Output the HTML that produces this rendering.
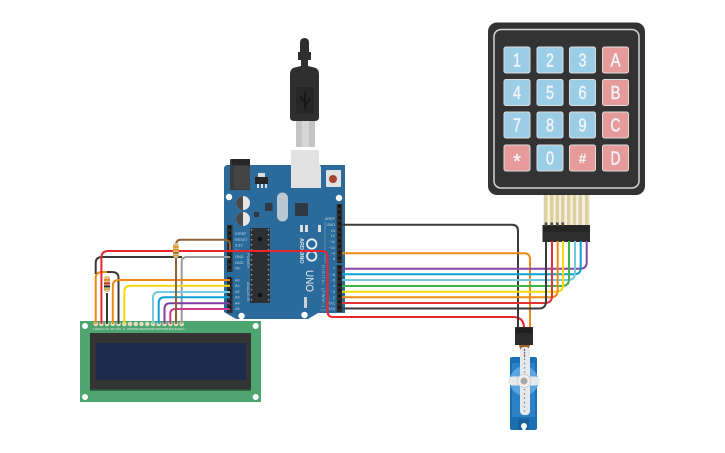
<!DOCTYPE html>
<html><head><meta charset="utf-8"><style>
html,body{margin:0;padding:0;background:#fff}
svg{display:block}
text{font-family:"Liberation Sans",sans-serif}
</style></head><body>
<svg width="725" height="453" viewBox="0 0 725 453" xmlns="http://www.w3.org/2000/svg">
<rect width="725" height="453" fill="#fff"/>

<!-- USB -->
<rect x="296" y="120" width="19" height="27" fill="#c4c4c4"/>
<rect x="302" y="120" width="7" height="27" fill="#d6d6d6"/>
<path d="M300,52 V43 Q300,38 304.500,38 Q309,38 309,43 V52 H311 V60 H308 V66 L316,68 Q319,70 319,74 V117 Q319,121 315,121 H294 Q290,121 290,117 V74 Q290,70 293,68 L301,66 V60 H298 V52 Z" fill="#2f2f2f"/>
<rect x="296" y="87" width="18" height="27" fill="#262626"/>
<path d="M305,92 V109 M305,102 L301,98 V96 M305,105 L309,101 V98" stroke="#111" stroke-width="1.200" fill="none"/>

<!-- Arduino board -->
<path d="M228,165 H345 V313 H318 L308,319 H236 L224,312 V169 Q224,165 228,165 Z" fill="#2b6b9b"/>
<path d="M291,150 H319 V164 L321,167 V188 H291 Z" fill="#e2e2e2"/>
<rect x="230" y="159" width="20" height="31" rx="1" fill="#3a3a3a"/>
<rect x="232" y="159" width="18" height="6" fill="#262626"/>
<rect x="234" y="166" width="16" height="23" fill="#444"/>
<path d="M258,177 V173 H265 V177 Z" fill="#ddd"/>
<rect x="255" y="177" width="13" height="7" fill="#262626"/>
<rect x="257" y="184" width="2" height="4" fill="#ddd"/><rect x="261" y="184" width="2" height="4" fill="#ddd"/><rect x="265" y="184" width="2" height="4" fill="#ddd"/>
<rect x="326" y="170" width="15" height="17" rx="1" fill="#e2e2e2"/>
<circle cx="333" cy="179" r="4" fill="#a5452f"/>
<circle cx="229" cy="197" r="3.200" fill="#fff"/><circle cx="339" cy="198" r="3.200" fill="#fff"/><circle cx="304.500" cy="315" r="3.200" fill="#fff"/><circle cx="241.500" cy="316" r="3.200" fill="#fff"/>
<circle cx="243" cy="203" r="7" fill="#e6e6e6"/><path d="M243,196 A7,7 0 0 0 243,210 Z" fill="#4a4a4a"/>
<circle cx="243" cy="219" r="7" fill="#e6e6e6"/><path d="M243,212 A7,7 0 0 0 243,226 Z" fill="#4a4a4a"/>
<rect x="265" y="203" width="7.500" height="8" fill="#2d3a45"/>
<rect x="254" y="212" width="5" height="5" fill="#2d3a45"/>
<rect x="277" y="192.500" width="11" height="29" rx="5.500" fill="#b9c8d2"/>
<rect x="295" y="203" width="13" height="13" fill="#2d3a45"/>
<rect x="250" y="228" width="20" height="75" fill="#2c2f33"/>
<path d="M251.500,229 V302 M268.500,229 V302" stroke="#8a9aa5" stroke-width="1.500" stroke-dasharray="1.500 3.500"/>
<circle cx="260" cy="239" r="2.200" fill="#111"/><circle cx="260" cy="295" r="2.200" fill="#111"/>
<rect x="300" y="225" width="3" height="7" fill="#d8dde0"/><rect x="305" y="225" width="3" height="7" fill="#d8dde0"/><rect x="318" y="225" width="3" height="7" fill="#d8dde0"/>
<rect x="304" y="297" width="3" height="11" fill="#c9d2d8"/>
<circle cx="311.700" cy="244" r="4.700" fill="none" stroke="#e8eef2" stroke-width="1.800"/>
<circle cx="311.700" cy="256" r="4.700" fill="none" stroke="#e8eef2" stroke-width="1.800"/>
<text transform="translate(300,238) rotate(90)" font-size="5.500" font-weight="bold" fill="#d5e2ea">ARDUINO</text>
<text transform="translate(306,270) rotate(90)" font-size="11" fill="#e8eef2" textLength="22" lengthAdjust="spacingAndGlyphs">UNO</text>
<text transform="translate(322,265) rotate(90)" font-size="3.800" fill="#b9cfdd" textLength="42">DIGITAL (PWM~)</text>
<path d="M325,221 V263 M328,265 V310 H320" stroke="#8fb3c9" stroke-width=".5" fill="none"/>
<g font-size="3.800" fill="#c5d8e3" text-anchor="end">
<text x="335" y="220">AREF</text><text x="335" y="226">GND</text><text x="335" y="232">13</text><text x="335" y="237">12</text><text x="335" y="243">~11</text><text x="335" y="249">~10</text><text x="335" y="254.500">~9</text><text x="335" y="260">8</text>
<text x="335" y="270">7</text><text x="335" y="276">~6</text><text x="335" y="281.500">~5</text><text x="335" y="287">4</text><text x="335" y="293">~3</text><text x="335" y="299">2</text><text x="335" y="304.500">TX1</text><text x="335" y="310">RX0</text>
</g>
<g font-size="3.800" fill="#c5d8e3">
<text x="235" y="235">IOREF</text><text x="235" y="241">RESET</text><text x="235" y="246.500">3.3V</text><text x="235" y="252">5V</text><text x="235" y="258">GND</text><text x="235" y="264">GND</text><text x="235" y="269.500">Vin</text>
<text x="235" y="281.500">A0</text><text x="235" y="287">A1</text><text x="235" y="293">A2</text><text x="235" y="298.500">A3</text><text x="235" y="304.500">A4</text><text x="235" y="310">A5</text>
</g>
<text transform="translate(247,253) rotate(90)" font-size="4" fill="#b9cfdd">POWER</text>
<text transform="translate(247,282) rotate(90)" font-size="3.500" fill="#b9cfdd">ANALOG IN</text>

<!-- Headers -->
<rect x="227" y="225" width="5.500" height="47" fill="#2e2e2e"/>
<rect x="227" y="277" width="5.500" height="36" fill="#2e2e2e"/>
<rect x="336.700" y="204" width="5.500" height="59" fill="#2e2e2e"/>
<rect x="336.700" y="265" width="5.500" height="47" fill="#2e2e2e"/>
<path d="M229.700,226 V272 M229.700,278 V312 M339.500,205 V263 M339.500,266 V312" stroke="#111" stroke-width="2.600" stroke-dasharray="2.700 3.030"/>

<!-- LCD -->
<rect x="80" y="321" width="181" height="81" fill="#4fa56f"/>
<rect x="90" y="333" width="161" height="58" fill="#343434"/>
<rect x="96" y="343" width="150" height="37" fill="#1c2b4b"/>
<rect x="90" y="389.500" width="161" height="1.500" fill="#2e6a47"/>
<circle cx="85" cy="326" r="3" fill="#fff"/><circle cx="85" cy="397" r="3" fill="#fff"/><circle cx="255.700" cy="326" r="3" fill="#fff"/><circle cx="255.700" cy="397" r="3" fill="#fff"/>
<g fill="#e9e2b8" stroke="#d8d4c0" stroke-width=".6">
<circle cx="95.700" cy="324" r="2"/><circle cx="101.400" cy="324" r="2"/><circle cx="107.100" cy="324" r="2"/><circle cx="112.800" cy="324" r="2"/><circle cx="118.500" cy="324" r="2"/><circle cx="124.300" cy="324" r="2"/><circle cx="130" cy="324" r="2"/><circle cx="135.800" cy="324" r="2"/><circle cx="141.500" cy="324" r="2"/><circle cx="147.300" cy="324" r="2"/><circle cx="153" cy="324" r="2"/><circle cx="158.700" cy="324" r="2"/><circle cx="164.500" cy="324" r="2"/><circle cx="170.300" cy="324" r="2"/><circle cx="176" cy="324" r="2"/><circle cx="181.700" cy="324" r="2"/>
</g>
<g font-size="3" fill="#d5e8dc" text-anchor="middle">
<text x="95.700" y="330">GND</text><text x="101.400" y="330">VCC</text><text x="107.100" y="330">VO</text><text x="112.800" y="330">RS</text><text x="118.500" y="330">RW</text><text x="124.300" y="330">E</text><text x="130" y="330">DB0</text><text x="135.800" y="330">DB1</text><text x="141.500" y="330">DB2</text><text x="147.300" y="330">DB3</text><text x="153" y="330">DB4</text><text x="158.700" y="330">DB5</text><text x="164.500" y="330">DB6</text><text x="170.300" y="330">DB7</text><text x="176" y="330">LED</text><text x="181.700" y="330">LED</text>
</g>

<!-- Left wires -->
<g fill="none" stroke-width="2">
<path d="M95.700,324 V278 Q95.700,272 102,272 H107" stroke="#ee8a12"/>
<path d="M118.500,324 V278 Q118.500,272 112,272 H107" stroke="#3a3a3a"/>
<path d="M107,293 V324" stroke="#3a3a3a"/>
<path d="M95.700,274 V263 Q95.700,257 102,257 H182" stroke="#3a3a3a"/>
<path d="M181.700,324 V262 Q181.700,257 187,257 H230" stroke="#9a9a9a"/>
<path d="M112.800,324 V286 Q112.800,280 119,280 H230" stroke="#ee8a12"/>
<path d="M124.300,324 V292 Q124.300,285.700 131,285.700 H230" stroke="#f5d90a"/>
<path d="M153,324 V298 Q153,292 159,292 H230" stroke="#74c9dc"/>
<path d="M158.700,324 V303 Q158.700,297.300 165,297.300 H230" stroke="#0e9ed8"/>
<path d="M164.500,324 V309 Q164.500,303.300 170,303.300 H230" stroke="#7d3f9f"/>
<path d="M170.300,324 V314 Q170.300,309 175,309 H230" stroke="#c93a8c"/>
<path d="M176,324 V243 M176,243 V245 Q176,239.700 181,239.700 H224 Q230,239.700 230,245 V251" stroke="#8e6238"/>
<path d="M101.400,324 V258 Q101.400,251 108,251 H322 Q327.500,251 327.500,257 V311 Q327.500,317 333,317 H513 Q524,317 524,328" stroke="#e8262c"/>
</g>

<!-- Resistors -->
<g>
<rect x="104" y="276" width="6" height="16" rx="2.500" fill="#dcc08c"/>
<rect x="104" y="279" width="6" height="1.800" fill="#e88f20"/>
<rect x="104" y="282.500" width="6" height="1.800" fill="#c8242a"/>
<rect x="104" y="285.500" width="6" height="1.800" fill="#222"/>
<rect x="104" y="288.500" width="6" height="1.200" fill="#c9a13c"/>
<rect x="173" y="243" width="5.700" height="15" rx="2.500" fill="#dcc08c"/>
<rect x="173" y="246" width="5.700" height="1.700" fill="#e88f20"/>
<rect x="173" y="249" width="5.700" height="1.700" fill="#e88f20"/>
<rect x="173" y="252" width="5.700" height="1.700" fill="#a5642a"/>
<rect x="173" y="255" width="5.700" height="1.200" fill="#c9a13c"/>
</g>

<!-- Keypad ribbon -->
<rect x="543" y="195" width="47" height="30" fill="#f3f0e6"/>
<g fill="#e0cf9e">
<rect x="544" y="195" width="3.500" height="30"/><rect x="550" y="195" width="3.500" height="30"/><rect x="555.600" y="195" width="3.500" height="30"/><rect x="561" y="195" width="3.500" height="30"/><rect x="567" y="195" width="3.500" height="30"/><rect x="572.700" y="195" width="3.500" height="30"/><rect x="578.500" y="195" width="3.500" height="30"/><rect x="585" y="195" width="3.500" height="30"/>
</g>
<!-- Keypad -->
<rect x="488" y="22.500" width="157" height="172.500" rx="9" fill="#333"/>
<rect x="494" y="29.500" width="145" height="158.500" rx="7" fill="none" stroke="#d5d5d5" stroke-width="1.500"/>
<g stroke="#dcdcdc" stroke-width="1">
<rect x="504" y="47" width="26" height="26" rx="2" fill="#9bcde6"/><rect x="537" y="47" width="26" height="26" rx="2" fill="#9bcde6"/><rect x="569.500" y="47" width="26" height="26" rx="2" fill="#9bcde6"/><rect x="602.500" y="47" width="26" height="26" rx="2" fill="#e79a9a"/>
<rect x="504" y="79.500" width="26" height="26" rx="2" fill="#9bcde6"/><rect x="537" y="79.500" width="26" height="26" rx="2" fill="#9bcde6"/><rect x="569.500" y="79.500" width="26" height="26" rx="2" fill="#9bcde6"/><rect x="602.500" y="79.500" width="26" height="26" rx="2" fill="#e79a9a"/>
<rect x="504" y="112" width="26" height="26" rx="2" fill="#9bcde6"/><rect x="537" y="112" width="26" height="26" rx="2" fill="#9bcde6"/><rect x="569.500" y="112" width="26" height="26" rx="2" fill="#9bcde6"/><rect x="602.500" y="112" width="26" height="26" rx="2" fill="#e79a9a"/>
<rect x="504" y="145" width="26" height="26" rx="2" fill="#e79a9a"/><rect x="537" y="145" width="26" height="26" rx="2" fill="#9bcde6"/><rect x="569.500" y="145" width="26" height="26" rx="2" fill="#e79a9a"/><rect x="602.500" y="145" width="26" height="26" rx="2" fill="#e79a9a"/>
</g>
<g font-size="18" fill="#f2f6f8" stroke="#f2f6f8" stroke-width=".4" text-anchor="middle">
<text x="517" y="66.500" textLength="8" lengthAdjust="spacingAndGlyphs">1</text><text x="550" y="66.500" textLength="8" lengthAdjust="spacingAndGlyphs">2</text><text x="582.500" y="66.500" textLength="8" lengthAdjust="spacingAndGlyphs">3</text><text x="615.500" y="66.500" textLength="10" lengthAdjust="spacingAndGlyphs">A</text>
<text x="517" y="99" textLength="8" lengthAdjust="spacingAndGlyphs">4</text><text x="550" y="99" textLength="8" lengthAdjust="spacingAndGlyphs">5</text><text x="582.500" y="99" textLength="8" lengthAdjust="spacingAndGlyphs">6</text><text x="615.500" y="99" textLength="10" lengthAdjust="spacingAndGlyphs">B</text>
<text x="517" y="131.500" textLength="8" lengthAdjust="spacingAndGlyphs">7</text><text x="550" y="131.500" textLength="8" lengthAdjust="spacingAndGlyphs">8</text><text x="582.500" y="131.500" textLength="8" lengthAdjust="spacingAndGlyphs">9</text><text x="615.500" y="131.500" textLength="10" lengthAdjust="spacingAndGlyphs">C</text>
<text x="517" y="168" font-size="20">*</text><text x="550" y="164.500" textLength="8" lengthAdjust="spacingAndGlyphs">0</text><text x="582.500" y="163" font-size="13" textLength="7" lengthAdjust="spacingAndGlyphs">#</text><text x="615.500" y="164.500" textLength="10" lengthAdjust="spacingAndGlyphs">D</text>
</g>

<!-- Keypad connector -->
<rect x="542.500" y="225" width="47.500" height="17" fill="#2e2e2e"/>
<rect x="542.500" y="225" width="47.500" height="7" fill="#262626"/>
<path d="M546,222.500 V226 M551.700,222.500 V226 M557.300,222.500 V226 M562.700,222.500 V226" stroke="#444" stroke-width="2.500"/>

<!-- Right wires -->
<g fill="none" stroke-width="2">
<path d="M342,224.700 H512 Q518,224.700 518,231 V328" stroke="#3a3a3a"/>
<path d="M342,253.300 H524 Q530,253.300 530,259 V328" stroke="#ee8a12"/>
<path d="M342,268.700 H580 Q586.700,268.700 586.700,262 V241" stroke="#8a44a8"/>
<path d="M342,274.300 H574 Q580.700,274.300 580.700,268 V241" stroke="#0e9ed8"/>
<path d="M342,280 H568 Q575,280 575,273 V241" stroke="#74c9dc"/>
<path d="M342,286 H562 Q569,286 569,279 V241" stroke="#3fb34a"/>
<path d="M342,291.700 H556 Q563,291.700 563,285 V241" stroke="#f5d90a"/>
<path d="M342,297.300 H551 Q557.700,297.300 557.700,290 V241" stroke="#ee8a12"/>
<path d="M342,303 H545 Q552,303 552,296 V241" stroke="#e0323a"/>
<path d="M342,308.500 H539 Q546,308.500 546,301 V241" stroke="#3a3a3a"/>
</g>

<!-- Servo -->
<path d="M519,345 L522,357 H526 L530,345 Z" fill="#a0632a"/>
<rect x="510" y="357" width="27" height="73" rx="2" fill="#1a6fb5"/>
<rect x="512" y="363" width="23" height="54" fill="#2b82c6"/>
<circle cx="524" cy="381" r="14.500" fill="#5aa5e0"/>
<rect x="518" y="419" width="11" height="11" fill="#1a5f9c"/>
<circle cx="524" cy="426" r="3" fill="#fff"/><rect x="522.500" y="426" width="3" height="5" fill="#fff"/>
<rect x="520" y="347" width="10" height="68" rx="4" fill="#e6e9ec"/>
<rect x="508" y="376.500" width="32" height="9" rx="4.500" fill="#e6e9ec"/>
<circle cx="524" cy="381" r="6.500" fill="#f0f0f0" stroke="#ccc"/>
<circle cx="524" cy="381" r="3.500" fill="#a8a8a8"/>
<path d="M524.500,350 V373 M524.500,389 V413" stroke="#6b7f90" stroke-width="1.300" stroke-dasharray="1.300 3"/>
<path d="M524.500,349 V358" stroke="#a33" stroke-width="1.300" stroke-dasharray="1.300 2"/>
<rect x="515" y="327" width="18" height="18" fill="#2c2c2c"/>
<rect x="516" y="328" width="16" height="5" fill="#1f1f1f"/>
</svg>
</body></html>
